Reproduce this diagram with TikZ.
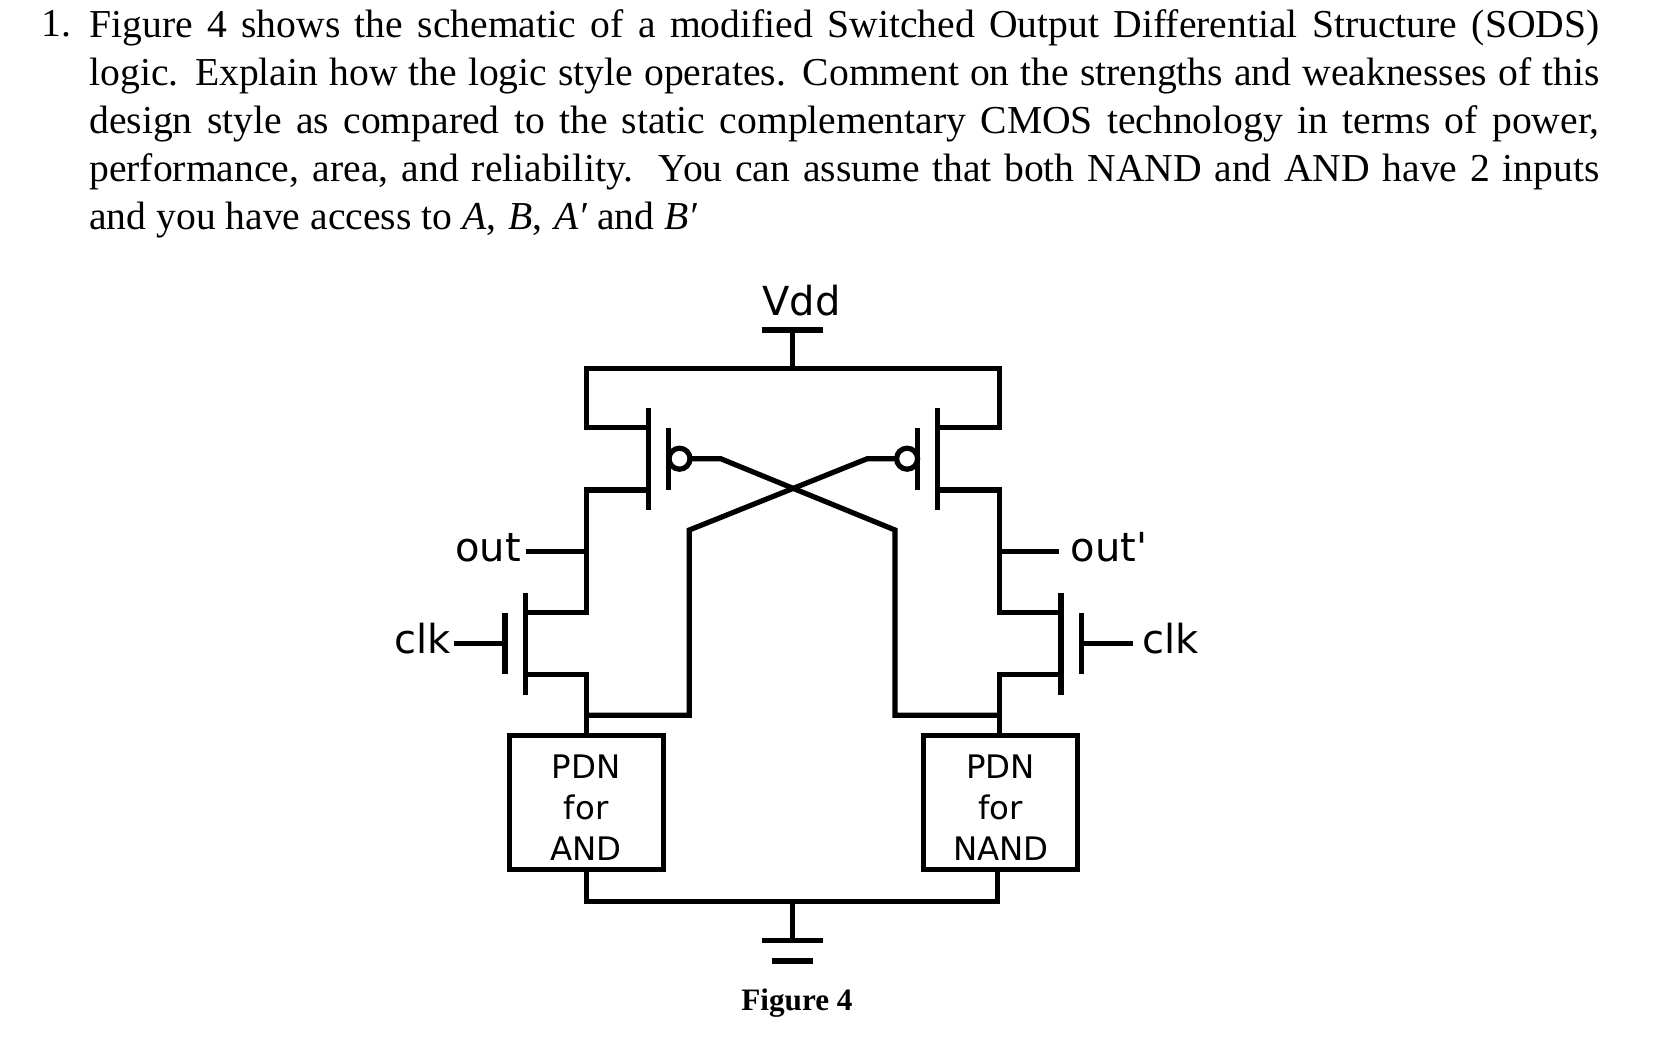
\documentclass[tikz,border=0pt]{standalone}
\usepackage{fontspec}
\setmainfont{Liberation Serif}
\newfontfamily\schemfont{DejaVu Sans}
\tikzset{
  wire/.style={black, line width=2.6pt},
  qtext/.style={inner sep=0pt, font=\fontsize{19.8}{24}\selectfont},
  lbl/.style={inner sep=0pt, anchor=base, font=\schemfont\fontsize{20}{24}\selectfont},
  bubble/.style={circle, draw, line width=2.6pt, minimum size=10.5pt, inner sep=0pt, outer sep=0pt},
  pdn/.style={rectangle, draw, line width=2.6pt, minimum width=77pt, minimum height=66.7pt, inner sep=0pt, outer sep=0pt, align=center, font=\schemfont\fontsize{16.2}{20.5}\selectfont}
}
\begin{document}
\begin{tikzpicture}[x=0.5pt, y=-0.5pt]
        \useasboundingbox (0,0) rectangle (1672,1044);

        \node[qtext, anchor=base west] (num) at (41,36.7) {1.};
        \node[qtext, anchor=north west, text width=755pt, align=justify] (question) at (89,9) {Figure 4 shows the schematic of a modified Switched Output Differential Structure (SODS)\linebreak
          logic. Explain how the logic style operates. Comment on the strengths and weaknesses of this\linebreak
          design style as compared to the static complementary CMOS technology in terms of power,\linebreak
          performance, area, and reliability.\ \ You can assume that both NAND and AND have 2 inputs\linebreak
          and you have access to \textit{A},\kern1pt{} \textit{B},\kern1pt{} \textit{A\char"2032} and \textit{B\char"2032}};

            \coordinate (VddL) at (761.7,330);
            \coordinate (VddR) at (823,330);
            \coordinate (VddS) at (792.3,330);
            \coordinate (TopM) at (792.3,368.7);
            \coordinate (TopL) at (586.7,368.7);
            \coordinate (TopR) at (999.3,368.7);

            \coordinate (PSL) at (648.3,427.7);
            \coordinate (PSLc) at (586.7,427.7);
            \coordinate (PDL) at (648.3,490);
            \coordinate (PDLc) at (586.7,490);
            \coordinate (PSR) at (937.7,427.7);
            \coordinate (PSRc) at (999.3,427.7);
            \coordinate (PDR) at (937.7,490);
            \coordinate (PDRc) at (999.3,490);

            \coordinate (OutL) at (525.7,551.7);
            \coordinate (TapL) at (586.7,551.7);
            \coordinate (OutR) at (1058.7,551.7);
            \coordinate (TapR) at (999.3,551.7);

            \coordinate (NDL) at (525.3,612.7);
            \coordinate (NDLc) at (586.7,612.7);
            \coordinate (NSL) at (525.3,674.3);
            \coordinate (NSLc) at (586.7,674.3);
            \coordinate (NDR) at (1061,612.7);
            \coordinate (NDRc) at (999.3,612.7);
            \coordinate (NSR) at (1061,674.3);
            \coordinate (NSRc) at (999.3,674.3);

            \coordinate (ClkL) at (454,643.3);
            \coordinate (GateL) at (505,643.3);
            \coordinate (ClkR) at (1132.7,643.3);
            \coordinate (GateR) at (1081.7,643.3);

            \coordinate (KneeL) at (720.7,458.7);
            \coordinate (KneeR) at (867.3,458.7);
            \coordinate (CrossL) at (689.3,530);
            \coordinate (CrossR) at (895,530);
            \coordinate (FootL) at (689.3,715.3);
            \coordinate (FootR) at (895,715.3);
            \coordinate (JoinL) at (586.7,715.3);
            \coordinate (JoinR) at (999.3,715.3);

            \coordinate (GndL) at (586.7,901.3);
            \coordinate (GndR) at (997.7,901.3);
            \coordinate (GndM) at (792.3,901.3);
            \coordinate (GndS) at (792.3,940.7);

      \node[pdn] (PDNL) at (586.1,802.4) {\raisebox{-2.4pt}[\height][\depth]{\parbox{70pt}{\centering PDN\\for\\AND}}};
      \node[pdn] (PDNR) at (1000.8,802.4) {\raisebox{-2.4pt}[\height][\depth]{\parbox{70pt}{\centering PDN\\for\\NAND}}};

      \node[bubble] (BubL) at (679.5,458.7) {};
      \node[bubble] (BubR) at (907.1,458.7) {};

      \draw [wire] (VddL) -- (VddR);
      \draw [wire] (VddS) -- (TopM);
      \draw [wire] (PSL) -- (PSLc) -- (TopL) -- (TopR) -- (PSRc) -- (PSR);

      \draw [wire] (648.3,408) -- (648.3,510);
      \draw [wire] (668.7,428) -- (668.7,490);
      \draw [wire] (937.7,408) -- (937.7,510);
      \draw [wire] (917.3,428) -- (917.3,490);

      \draw [wire] (PDL) -- (PDLc) -- (NDLc) -- (NDL);
      \draw [wire] (PDR) -- (PDRc) -- (NDRc) -- (NDR);
      \draw [wire] (OutL) -- (TapL);
      \draw [wire] (TapR) -- (OutR);

      \draw [wire] (525.3,592.7) -- (525.3,694.7);
      \draw [wire] (505,613) -- (505,674);
      \draw [wire] (1061,592.7) -- (1061,694.7);
      \draw [wire] (1081.7,613) -- (1081.7,674);
      \draw [wire] (ClkL) -- (GateL);
      \draw [wire] (GateR) -- (ClkR);

      \draw [wire] (NSL) -- (NSLc) -- (PDNL.north -| NSLc);
      \draw [wire] (NSR) -- (NSRc) -- (PDNR.north -| NSRc);

      \draw [wire] (BubL.east) -- (KneeL) -- (CrossR) -- (FootR) -- (JoinR);
      \draw [wire] (BubR.west) -- (KneeR) -- (CrossL) -- (FootL) -- (JoinL);

      \draw [wire] (PDNL.south -| GndL) -- (GndL) -- (GndR) -- (PDNR.south -| GndR);
      \draw [wire] (GndM) -- (GndS);
      \draw [wire] (761.6,940.7) -- (822.9,940.7);
      \draw [wire] (771.8,961) -- (812.7,961);

      \node[lbl] (vdd) at (801.5,315) {Vdd};
      \node[lbl] (out) at (488,561.7) {out};
      \node[lbl] (outp) at (1109,561.7) {out'};
      \node[lbl] (clkl) at (423,653) {clk};
      \node[lbl] (clkr) at (1171,653) {clk};
      \node[inner sep=0pt, anchor=base, font=\bfseries\fontsize{15.6}{18}\selectfont] (caption) at (797,1010) {Figure 4};

      \end{tikzpicture}
\end{document}
